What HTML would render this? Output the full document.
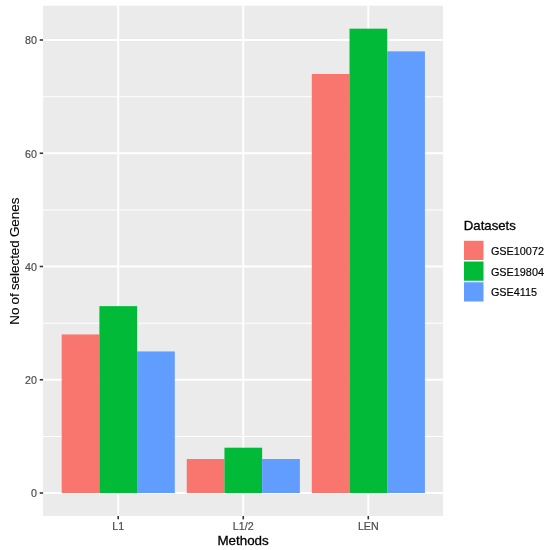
<!DOCTYPE html>
<html><head><meta charset="utf-8"><title>Plot</title>
<style>
html,body{margin:0;padding:0;background:#fff;}
body{width:550px;height:550px;overflow:hidden;}
svg text{font-family:"Liberation Sans",Arial,Helvetica,sans-serif;}
.ax{font-size:10.7px;fill:#4D4D4D;stroke:#4D4D4D;stroke-width:0.2px;}
.lg{font-size:10.85px;fill:#000;stroke:#000;stroke-width:0.15px;}
.ti{font-size:13.4px;fill:#000;stroke:#000;stroke-width:0.3px;}
</style></head><body>
<svg width="550" height="550" viewBox="0 0 550 550" style="display:block">
<rect width="550" height="550" fill="#fff"/>
<rect x="43.10" y="5.75" width="400.00" height="510.20" fill="#EBEBEB"/>
<line x1="43.10" x2="443.10" y1="436.50" y2="436.50" stroke="#fff" stroke-width="1.1"/>
<line x1="43.10" x2="443.10" y1="323.25" y2="323.25" stroke="#fff" stroke-width="1.1"/>
<line x1="43.10" x2="443.10" y1="210.00" y2="210.00" stroke="#fff" stroke-width="1.1"/>
<line x1="43.10" x2="443.10" y1="96.75" y2="96.75" stroke="#fff" stroke-width="1.1"/>
<line x1="43.10" x2="443.10" y1="493.00" y2="493.00" stroke="#fff" stroke-width="1.9"/>
<line x1="43.10" x2="443.10" y1="379.75" y2="379.75" stroke="#fff" stroke-width="1.9"/>
<line x1="43.10" x2="443.10" y1="266.50" y2="266.50" stroke="#fff" stroke-width="1.9"/>
<line x1="43.10" x2="443.10" y1="153.25" y2="153.25" stroke="#fff" stroke-width="1.9"/>
<line x1="43.10" x2="443.10" y1="40.00" y2="40.00" stroke="#fff" stroke-width="1.9"/>
<line x1="118.20" x2="118.20" y1="5.75" y2="515.95" stroke="#fff" stroke-width="1.9"/>
<line x1="243.25" x2="243.25" y1="5.75" y2="515.95" stroke="#fff" stroke-width="1.9"/>
<line x1="368.30" x2="368.30" y1="5.75" y2="515.95" stroke="#fff" stroke-width="1.9"/>
<rect x="61.70" y="334.45" width="37.70" height="158.55" fill="#F8766D"/>
<rect x="99.40" y="306.14" width="37.70" height="186.86" fill="#00BA38"/>
<rect x="137.10" y="351.44" width="37.70" height="141.56" fill="#619CFF"/>
<rect x="186.75" y="459.02" width="37.70" height="33.97" fill="#F8766D"/>
<rect x="224.45" y="447.70" width="37.70" height="45.30" fill="#00BA38"/>
<rect x="262.15" y="459.02" width="37.70" height="33.97" fill="#619CFF"/>
<rect x="311.80" y="73.98" width="37.70" height="419.02" fill="#F8766D"/>
<rect x="349.50" y="28.68" width="37.70" height="464.32" fill="#00BA38"/>
<rect x="387.20" y="51.33" width="37.70" height="441.67" fill="#619CFF"/>
<line x1="39.70" x2="43.10" y1="493.00" y2="493.00" stroke="#333" stroke-width="1.6"/>
<text x="36.90" y="496.85" text-anchor="end" class="ax">0</text>
<line x1="39.70" x2="43.10" y1="379.75" y2="379.75" stroke="#333" stroke-width="1.6"/>
<text x="36.90" y="383.60" text-anchor="end" class="ax">20</text>
<line x1="39.70" x2="43.10" y1="266.50" y2="266.50" stroke="#333" stroke-width="1.6"/>
<text x="36.90" y="271.05" text-anchor="end" class="ax">40</text>
<line x1="39.70" x2="43.10" y1="153.25" y2="153.25" stroke="#333" stroke-width="1.6"/>
<text x="36.90" y="157.55" text-anchor="end" class="ax">60</text>
<line x1="39.70" x2="43.10" y1="40.00" y2="40.00" stroke="#333" stroke-width="1.6"/>
<text x="36.90" y="43.85" text-anchor="end" class="ax">80</text>
<line x1="118.20" x2="118.20" y1="515.95" y2="519.35" stroke="#333" stroke-width="1.6"/>
<text x="118.20" y="529.80" text-anchor="middle" class="ax">L1</text>
<line x1="243.25" x2="243.25" y1="515.95" y2="519.35" stroke="#333" stroke-width="1.6"/>
<text x="243.25" y="529.80" text-anchor="middle" class="ax">L1/2</text>
<line x1="368.30" x2="368.30" y1="515.95" y2="519.35" stroke="#333" stroke-width="1.6"/>
<text x="368.30" y="529.80" text-anchor="middle" class="ax">LEN</text>
<text x="243.10" y="545.2" text-anchor="middle" class="ti">Methods</text>
<text transform="translate(19.2,261.15) rotate(-90)" text-anchor="middle" class="ti" style="font-size:13.4px;stroke-width:0.1px;word-spacing:-0.6px">No of selected Genes</text>
<text x="463.8" y="230.3" class="ti" style="font-size:13.2px">Datasets</text>
<rect x="464" y="240.75" width="19.5" height="19.25" fill="#F8766D"/>
<text x="490.9" y="254.75" class="lg">GSE10072</text>
<rect x="464" y="261.5" width="19.5" height="19.25" fill="#00BA38"/>
<text x="490.9" y="275.50" class="lg">GSE19804</text>
<rect x="464" y="282.25" width="19.5" height="19.25" fill="#619CFF"/>
<text x="490.9" y="296.25" class="lg">GSE4115</text>
</svg>
</body></html>
